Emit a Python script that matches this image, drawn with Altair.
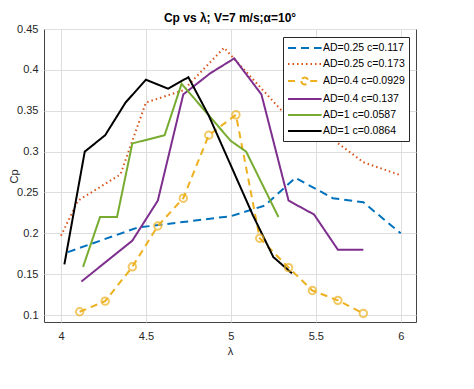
import altair as alt
import pandas as pd

names = ["AD=0.25 c=0.117", "AD=0.25 c=0.173", "AD=0.4 c=0.0929",
         "AD=0.4 c=0.137", "AD=1 c=0.0587", "AD=1 c=0.0864"]
colors = ["#0072BD", "#D95319", "#EDB120", "#7E2F8E", "#77AC30", "#000000"]
dashes = [[8, 5], [1.5, 3], [7, 5], [1, 0], [1, 0], [1, 0]]

x_blue = [4.04, 4.45, 5.0, 5.2, 5.38, 5.6, 5.78, 6.0]
y_blue = [0.177, 0.207, 0.221, 0.234, 0.268, 0.243, 0.238, 0.200]

x_red = [4.0, 4.1, 4.35, 4.5, 4.72, 4.96, 5.3, 5.6, 5.78, 6.0]
y_red = [0.197, 0.240, 0.272, 0.360, 0.375, 0.427, 0.350, 0.315, 0.287, 0.271]

x_yel = [4.11, 4.26, 4.42, 4.57, 4.72, 4.87, 5.03, 5.17, 5.34, 5.48, 5.63, 5.78]
y_yel = [0.104, 0.117, 0.159, 0.209, 0.243, 0.320, 0.345, 0.194, 0.158, 0.130, 0.118, 0.102]

x_pur = [4.12, 4.42, 4.57, 4.72, 4.88, 5.02, 5.18, 5.34, 5.49, 5.63, 5.78]
y_pur = [0.141, 0.191, 0.240, 0.370, 0.396, 0.414, 0.370, 0.240, 0.223, 0.180, 0.180]

x_grn = [4.13, 4.23, 4.33, 4.42, 4.61, 4.71, 5.0, 5.09, 5.28]
y_grn = [0.159, 0.220, 0.220, 0.310, 0.320, 0.383, 0.313, 0.300, 0.220]

x_blk = [4.02, 4.14, 4.26, 4.38, 4.5, 4.63, 4.75, 4.87, 5.0, 5.13, 5.25, 5.36]
y_blk = [0.162, 0.300, 0.320, 0.360, 0.388, 0.377, 0.391, 0.344, 0.283, 0.222, 0.171, 0.151]

x_ticks = [4, 4.5, 5, 5.5, 6]
y_ticks = [0.1, 0.15, 0.2, 0.25, 0.3, 0.35, 0.4, 0.45]

series = [(names[0], x_blue, y_blue), (names[1], x_red, y_red), (names[2], x_yel, y_yel),
          (names[3], x_pur, y_pur), (names[4], x_grn, y_grn), (names[5], x_blk, y_blk)]
rows = []
for s, xs, ys in series:
    for i, (a, b) in enumerate(zip(xs, ys)):
        rows.append({"series": s, "lam": a, "cp": b, "idx": i})
df = pd.DataFrame(rows)

FONT = "Liberation Sans"

xenc = alt.X("lam:Q", scale=alt.Scale(domain=[3.9, 6.09], nice=False, zero=False),
             axis=alt.Axis(values=x_ticks, format="~g", title="λ", ticks=False,
                           labelPadding=8, titlePadding=4))
yenc = alt.Y("cp:Q", scale=alt.Scale(domain=[0.0915, 0.45], nice=False, zero=False),
             axis=alt.Axis(values=y_ticks, format="~g", title="Cp", ticks=False,
                           labelPadding=6, titleX=-25, titleY=147))

LINE_PATH = "M-1,0L4.6,0"
MARK_PATH = ("M-1,0L0.9,0M2.7,0L4.6,0"
             "M1.22,0A0.58,0.58 0 1,0 2.38,0A0.58,0.58 0 1,0 1.22,0")
yel = names[2]
dash_expr = ("datum.value === '%s' ? [8, 5] : datum.value === '%s' ? [1.5, 3] : [1, 0]"
             % (names[0], names[1]))
legend = alt.Legend(
    title=None, orient="none", legendX=239, legendY=8,
    symbolType=alt.ExprRef(expr=f"datum.value === '{yel}' ? '{MARK_PATH}' : '{LINE_PATH}'"),
    symbolDash=alt.ExprRef(expr=dash_expr),
    symbolSize=144, symbolStrokeWidth=2, symbolFillColor="transparent",
    fillColor="white", strokeColor="#262626", padding=4,
    labelFontSize=10.5, labelFont=FONT, labelColor="#000000",
    labelOffset=22, rowPadding=3,
)

color = alt.Color("series:N", scale=alt.Scale(domain=names, range=colors), sort=names, legend=legend)
dash = alt.StrokeDash("series:N", scale=alt.Scale(domain=names, range=dashes), sort=names, legend=None)

lines = alt.Chart(df).mark_line(strokeWidth=2).encode(
    x=xenc, y=yenc, color=color, strokeDash=dash, order="idx:Q"
)

pts = alt.Chart(df).transform_filter(alt.datum.series == yel).mark_point(
    shape="circle", filled=False, strokeWidth=2, size=55
).encode(x=xenc, y=yenc, color=alt.Color("series:N", scale=alt.Scale(domain=names, range=colors), legend=None))

chart = alt.layer(lines, pts).properties(
    width=372, height=293,
    autosize=alt.AutoSizeParams(type="none"),
    padding={"left": 36, "top": 21, "right": 50, "bottom": 40},
    title=alt.TitleParams("Cp vs λ; V=7 m/s;α=10°", fontSize=12, fontWeight="bold",
                          font=FONT, color="#000000", offset=6, dy=8, anchor="middle", frame="group"),
).configure_view(
    stroke="#444444", strokeWidth=1
).configure_axis(
    grid=True, gridColor="#dedede", gridWidth=1, domain=False,
    labelFont=FONT, labelFontSize=11, labelColor="#262626",
    titleFont=FONT, titleFontSize=11, titleFontWeight="normal", titleColor="#262626"
)

chart.save("out.html", embed_options={"renderer": "svg", "actions": False})
